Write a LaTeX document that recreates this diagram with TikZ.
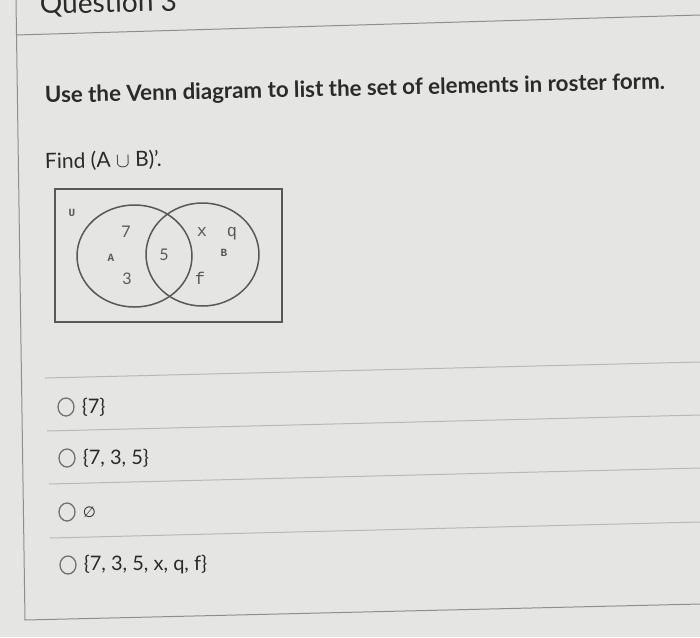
\documentclass[tikz,border=0pt]{standalone}
\usepackage{fontspec}
\setmainfont{Lato}
\newfontfamily\vennmono{Liberation Mono}
\newfontfamily\symfont{DejaVu Sans}
\usetikzlibrary{positioning, shapes.geometric}
\definecolor{screenBg}{HTML}{E5E5E3}
\definecolor{inkText}{HTML}{2A2A2A}
\definecolor{ruleGray}{HTML}{B8B8B6}
\definecolor{panelLine}{HTML}{8E8E8C}
\definecolor{vennGray}{HTML}{585858}

\begin{document}
\begin{tikzpicture}
[x=1pt, y=-1pt,
tilt/.style={rotate=1.3},
rule/.style={draw=ruleGray, line width=1pt},
panel/.style={draw=panelLine, line width=1pt},
setcircle/.style={ellipse, draw=vennGray, line width=1.5pt, inner sep=0pt},
num/.style={text=vennGray, font=\fontsize{16}{16}\selectfont},
elem/.style={text=vennGray, font=\vennmono\fontsize{17}{17}\selectfont},
setname/.style={text=vennGray, font=\vennmono\bfseries\fontsize{11}{11}\selectfont},
radio/.style={ellipse, draw=vennGray!85, line width=1.3pt, minimum width=16pt, minimum height=18pt, inner sep=0pt},
opt/.style={text=inkText, font=\fontsize{20}{20}\selectfont, anchor=west, inner sep=0pt}
]
\useasboundingbox (0,0) rectangle (700,637);
\clip (0,0) rectangle (700,637);
\fill[screenBg] (0,0) rectangle (700,637);

% panel frame and header
\coordinate (panelTop) at (16,0);
\coordinate (panelCorner) at (25,620);
\coordinate (panelEnd) at (700,604);
\draw[panel] (panelTop) -- (panelCorner) -- (panelEnd);
\coordinate (headL) at (16,35);
\coordinate (headR) at (700,15);
\draw[panel] (headL) -- (headR);
\node (qTitle) [tilt, anchor=base west, text=inkText, font=\fontsize{28}{28}\selectfont, inner sep=0pt] at (40,14) {Question 3};

% question text
\node (prompt) [tilt, anchor=base west, text=inkText, font=\bfseries\fontsize{22.3}{22}\selectfont, inner sep=0pt] at (45,103)
  {Use the Venn diagram to list the set of elements in roster form.};
\node (findText) [tilt, anchor=base west, text=inkText, font=\fontsize{21}{21}\selectfont, inner sep=0pt] at (45,169)
  {Find (A $\cup$ B)'.};

% venn diagram
\node (uBox) [draw=vennGray, line width=2pt, minimum width=227pt, minimum height=133pt, inner sep=0pt] at (168.5,255.5) {};
\node (setA) [setcircle, minimum width=115pt, minimum height=102pt] at (134.5,256) {};
\node (setB) [setcircle, minimum width=113pt, minimum height=103pt] at (202.5,254.5) {};
\node (uLab) [setname] at (72,213) {U};
\node (aLab) [setname] at (111,258) {A};
\node (bLab) [setname] at (224,253) {B};
\node (e7) [num] at (126,232) {7};
\node (e3) [num] at (127,279) {3};
\node (e5) [num] at (164,255) {5};
\node (ex) [elem] at (202,232) {x};
\node (eq) [elem] at (232,234) {q};
\node (ef) [elem] at (200,278) {f};

% answer rules
\coordinate (r0l) at (45,378);  \coordinate (r0r) at (700,362);
\coordinate (r1l) at (47,431);  \coordinate (r1r) at (700,415);
\coordinate (r2l) at (49,484);  \coordinate (r2r) at (700,468);
\coordinate (r3l) at (50,538);  \coordinate (r3r) at (700,522);
\draw[rule] (r0l) -- (r0r);
\draw[rule] (r1l) -- (r1r);
\draw[rule] (r2l) -- (r2r);
\draw[rule] (r3l) -- (r3r);

% answer options
\node (radio1) [radio] at (66,407) {};
\node (radio2) [radio] at (67,458) {};
\node (radio3) [radio] at (67,512) {};
\node (radio4) [radio] at (68,565) {};
\node (opt1) [opt, right=7pt of radio1] {\{7\}};
\node (opt2) [opt, right=7pt of radio2] {\{7, 3, 5\}};
\node (opt3) [opt, right=7pt of radio3, font=\symfont\fontsize{15}{15}\selectfont] {∅};
\node (opt4) [opt, right=7pt of radio4] {\{7, 3, 5, x, q, f\}};
\end{tikzpicture}
\end{document}
